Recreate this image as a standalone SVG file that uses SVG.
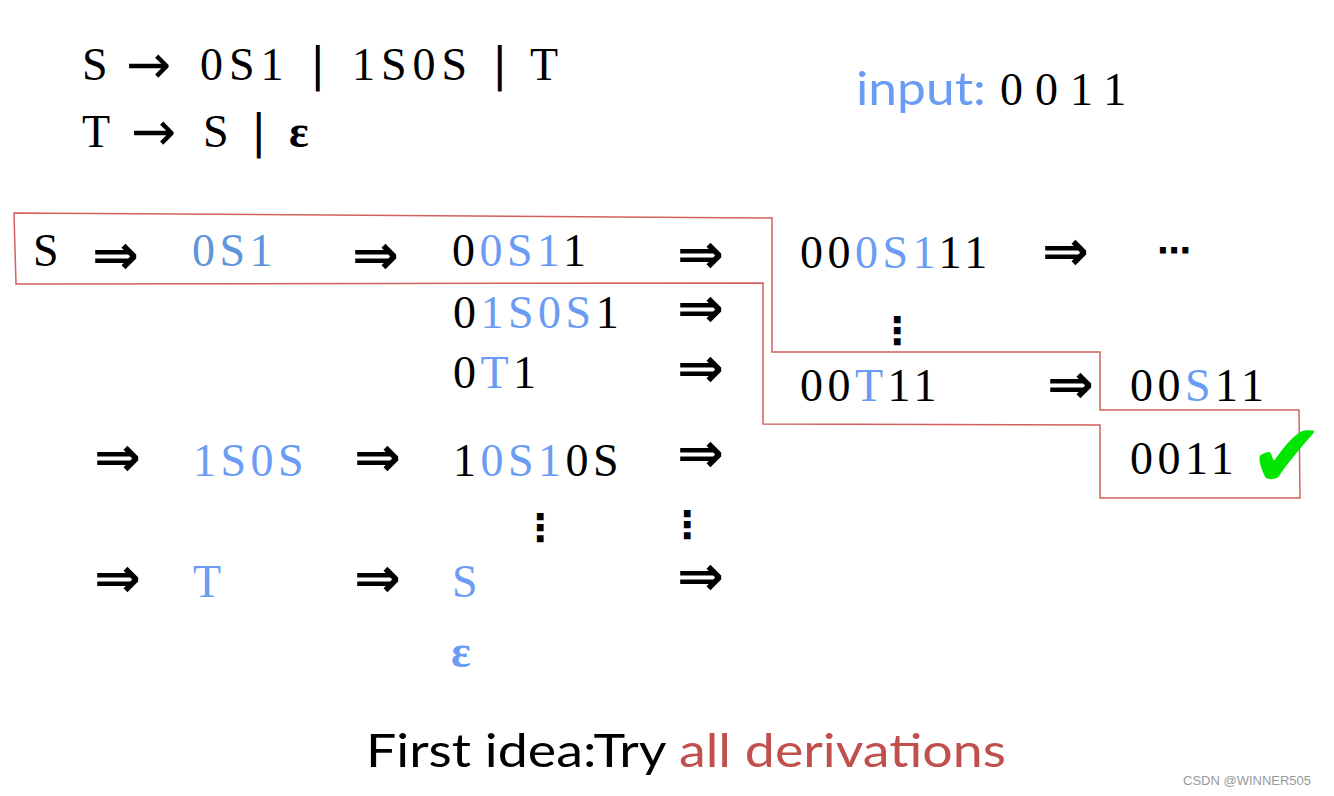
<svg xmlns="http://www.w3.org/2000/svg" width="1334" height="796" viewBox="0 0 1334 796">
<style>
text{font-size:46px;fill:#000}
.sr{font-family:"Liberation Serif","Times New Roman",serif}
.d{font-family:"Liberation Serif","Times New Roman",serif;letter-spacing:4.5px}
.ar{font-family:"DejaVu Sans",sans-serif;font-weight:bold;font-size:56px}
.to{font-family:"DejaVu Sans",sans-serif;font-size:54px}
.sym{font-family:"DejaVu Sans",sans-serif}
.dots{font-family:"DejaVu Sans",sans-serif;font-weight:bold;font-size:38px}
.b{fill:#6b9cf4}
.b2{fill:#5d94da}
.gs{font-family:Lato,"Open Sans",sans-serif}
.box{fill:none;stroke:#d2605c;stroke-width:1.5}
</style>
<rect width="1334" height="796" fill="#fff"/>
<g id="grammar">
<text x="82" y="80" font-size="50"><tspan class="sr">S</tspan><tspan class="to" x="126" y="83">→</tspan><tspan class="d" x="200" y="80" style="letter-spacing:6px">0</tspan><tspan class="sr" style="letter-spacing:6px">S</tspan><tspan class="d">1</tspan><tspan class="sym" x="310">|</tspan><tspan class="d" x="352" style="letter-spacing:6px">1S0S</tspan><tspan class="sym" x="492">|</tspan><tspan class="sr" x="530">T</tspan></text>
<text x="82" y="147" font-size="50"><tspan class="sr">T</tspan><tspan class="to" x="131" y="150">→</tspan><tspan class="sr" x="203" y="147">S</tspan><tspan class="sym" x="251">|</tspan><tspan class="sr" x="289" font-weight="bold">ε</tspan></text>
</g>
<g id="input">
<text class="gs b" x="856" y="105" font-size="46" textLength="130" lengthAdjust="spacingAndGlyphs">input:</text>
<text class="sr" x="1000" y="105" font-size="44" style="letter-spacing:12px">0011</text>
</g>
<g id="box"><polygon class="box" points="14,213 772,218 772,352 1100,352 1100,410 1299,410 1300,498 1100,498 1100,425 763,424 763,283 16,284"/></g>
<g id="row1">
<text class="sr" x="33" y="266">S</text>
<text class="ar" x="92" y="274">⇒</text>
<text x="192" y="266" class="d b2">0S1</text>
<text class="ar" x="352" y="274">⇒</text>
<text x="452" y="266" class="d"><tspan>0</tspan><tspan class="b">0S1</tspan><tspan>1</tspan></text>
<text class="ar" x="677" y="273">⇒</text>
<text x="800" y="268" class="d"><tspan>00</tspan><tspan class="b">0S1</tspan><tspan>11</tspan></text>
<text class="ar" x="1042" y="270">⇒</text>
<text class="dots" x="1157" y="262" style="font-size:34px">⋯</text>
</g>
<g id="row2">
<text x="453" y="328" class="d"><tspan>0</tspan><tspan class="b">1S0S</tspan><tspan>1</tspan></text>
<text class="ar" x="677" y="327">⇒</text>
<text class="dots" x="878" y="344">⋮</text>
</g>
<g id="row3">
<text x="453" y="388" class="d"><tspan>0</tspan><tspan class="b">T</tspan><tspan>1</tspan></text>
<text class="ar" x="677" y="387">⇒</text>
<text x="800" y="401" class="d"><tspan>00</tspan><tspan class="b">T</tspan><tspan>11</tspan></text>
<text class="ar" x="1047" y="403">⇒</text>
<text x="1130" y="401" class="d"><tspan>00</tspan><tspan class="b">S</tspan><tspan>11</tspan></text>
</g>
<g id="row4">
<text class="ar" x="94" y="476">⇒</text>
<text x="193" y="476" class="d b">1S0S</text>
<text class="ar" x="354" y="476">⇒</text>
<text x="453" y="476" class="d"><tspan>1</tspan><tspan class="b">0S1</tspan><tspan>0S</tspan></text>
<text class="ar" x="677" y="472">⇒</text>
<text x="1130" y="474" class="d">0011</text>
<text class="sym" x="1249" y="487" style="font-size:90px;fill:#00e600">✔</text>
<text class="dots" x="521" y="541">⋮</text>
<text class="dots" x="668" y="538">⋮</text>
</g>
<g id="row5">
<text class="ar" x="94" y="597">⇒</text>
<text class="sr b" x="193" y="597">T</text>
<text class="ar" x="354" y="597">⇒</text>
<text class="sr b" x="452" y="597">S</text>
<text class="ar" x="677" y="595">⇒</text>
<text class="sr b" x="451" y="667" font-weight="bold">ε</text>
</g>
<g id="caption">
<text class="gs" x="366" y="767" font-size="52" textLength="640" lengthAdjust="spacingAndGlyphs">First idea:Try <tspan fill="#c0504d">all derivations</tspan></text>
<text x="1183" y="785" font-family="Liberation Sans,Arial,sans-serif" style="font-size:13px;fill:#999">CSDN @WINNER505</text>
</g>
</svg>
